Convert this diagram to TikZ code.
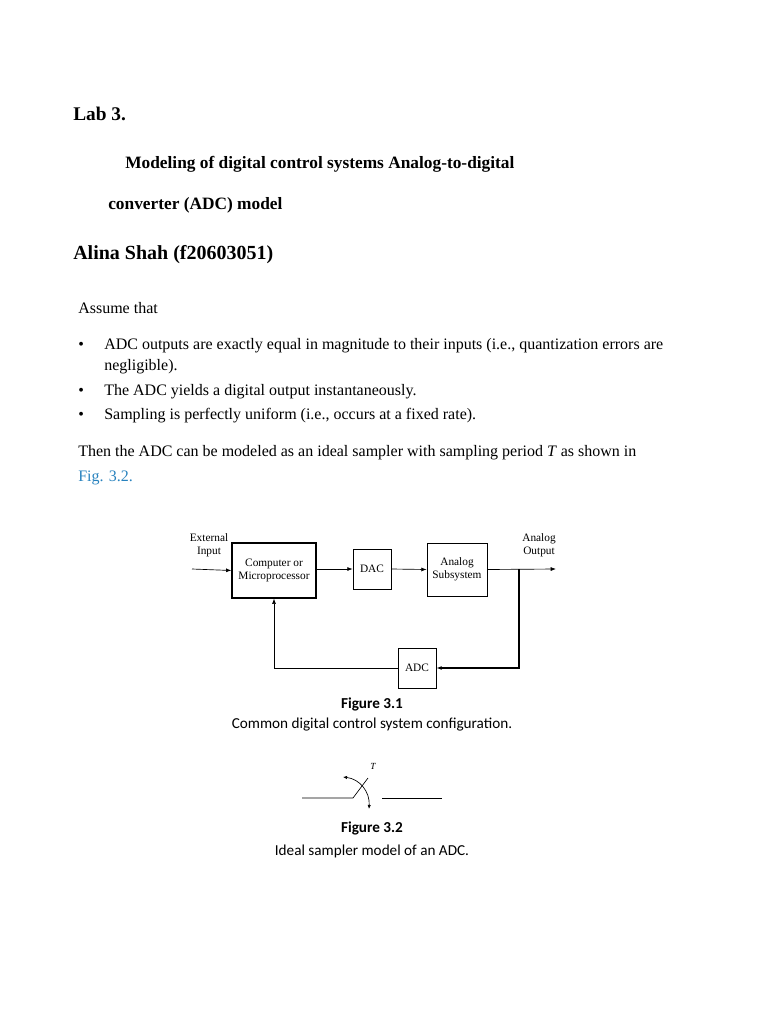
\documentclass[tikz,border=0pt]{standalone}
\usepackage{fontspec}
\setmainfont{Liberation Serif}
\newfontfamily\capfont{Carlito}
\usetikzlibrary{arrows.meta}
\definecolor{figblue}{RGB}{40,130,190}
\begin{document}
\begin{tikzpicture}[x=0.75pt,y=-0.75pt,
  blk/.style={draw,line width=0.6pt,inner sep=0pt,font=\fontsize{8.5}{9.5}\selectfont,align=center},
  lbl/.style={font=\fontsize{8.5}{9.5}\selectfont,align=center,inner sep=0pt},
  txt/.style={anchor=base west,inner sep=0pt},
  arr/.style={-{Latex[length=4pt,width=3pt]},line width=0.5pt},
  ln/.style={line width=0.5pt}]
\useasboundingbox (0,0) rectangle (768,1024);
\node[txt,font=\fontsize{14.5}{16}\selectfont\bfseries] (t1) at (73,120) {Lab 3.};
\node[txt,font=\fontsize{13}{15}\selectfont\bfseries] (t2) at (125,168) {Modeling of digital control systems Analog-to-digital};
\node[txt,font=\fontsize{13}{15}\selectfont\bfseries] (t3) at (108,209) {converter (ADC) model};
\node[txt,font=\fontsize{15}{17}\selectfont\bfseries] (t4) at (73,259) {Alina Shah (f20603051)};
\begin{scope}[font=\fontsize{12}{14}\selectfont]
\node[txt] (a0) at (78,313) {Assume that};
\node[txt] (b1) at (78,349) {•};
\node[txt] (a1) at (104,349) {ADC outputs are exactly equal in magnitude to their inputs (i.e., quantization errors are};
\node[txt] (a2) at (104,370) {negligible).};
\node[txt] (b2) at (78,395) {•};
\node[txt] (a3) at (104,395) {The ADC yields a digital output instantaneously.};
\node[txt] (b3) at (78,419) {•};
\node[txt] (a4) at (104,419) {Sampling is perfectly uniform (i.e., occurs at a fixed rate).};
\node[txt] (a5) at (78,456) {Then the ADC can be modeled as an ideal sampler with sampling period \textit{T} as shown in};
\node[txt,text=figblue] (a6) at (78,481) {Fig. 3.2.};
\end{scope}
% Figure 3.1
\node[blk,minimum width=84*0.75pt,minimum height=55*0.75pt,line width=0.9pt] (cpu) at (274,570.5) {Computer or\\Microprocessor};
\node[blk,minimum width=38*0.75pt,minimum height=40*0.75pt] (dac) at (372,569) {DAC};
\node[blk,minimum width=60*0.75pt,minimum height=53*0.75pt] (ana) at (457,569.5) {Analog\\Subsystem};
\node[blk,minimum width=38*0.75pt,minimum height=40*0.75pt] (adc) at (417,668) {ADC};
\node[lbl] (ein) at (209,545) {External\\Input};
\node[lbl] (aout) at (539,545) {Analog\\Output};
\coordinate (inS) at (192,569);
\coordinate (sp) at (519,569);
\coordinate (outE) at (556,569);
\draw[arr] (inS) -- (cpu.west);
\draw[arr] (cpu.east|-dac.west) -- (dac.west);
\draw[arr] (dac.east) -- (ana.west);
\draw[arr] (ana.east) -- (outE);
\draw[arr,line width=0.9pt] (sp) |- (adc.east);
\draw[arr] (adc.west) -| (cpu.south);
\node[font=\capfont\bfseries\fontsize{11.4}{13}\selectfont] (f1) at (372,704) {Figure 3.1};
\node[font=\capfont\fontsize{11.4}{13}\selectfont] (c1) at (372,725) {Common digital control system configuration.};
% Figure 3.2
\coordinate (l1) at (302,798);
\coordinate (l2) at (353,798);
\coordinate (l3) at (368,778);
\coordinate (r1) at (382,798);
\coordinate (r2) at (442,798);
\draw[ln] (l1) -- (l2) -- (l3);
\draw[ln] (r1) -- (r2);
\draw[ln,{Latex[length=3pt,width=2.5pt]}-{Latex[length=3pt,width=2.5pt]}] (343,777) .. controls (360,779) and (370,792) .. (369,809);
\node[font=\itshape\fontsize{7}{8}\selectfont] (T) at (373,766) {T};
\node[font=\capfont\bfseries\fontsize{11.4}{13}\selectfont] (f2) at (372,828) {Figure 3.2};
\node[font=\capfont\fontsize{11.4}{13}\selectfont] (c2) at (372,851) {Ideal sampler model of an ADC.};
\end{tikzpicture}
\end{document}
